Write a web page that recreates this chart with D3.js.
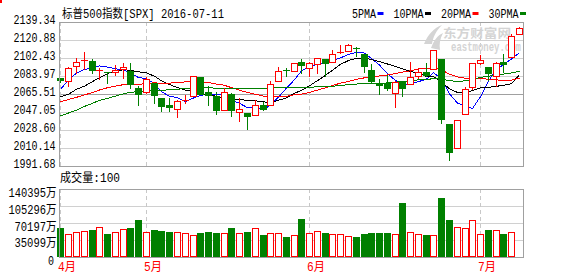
<!DOCTYPE html>
<html>
<head>
<meta charset="utf-8">
<script src="https://cdn.jsdelivr.net/npm/d3@7"></script>
<style>
  html, body { margin: 0; padding: 0; background: #fff; }
  svg { display: block; }
  text { font-family: "Liberation Mono", "Noto Sans CJK SC", monospace; font-size: 12px; }
</style>
</head>
<body>
<div id="chart"></div>
<script>
// S&P 500 daily candles, 2016-04-15 .. 2016-07-11
const dates = ['04-15','04-18','04-19','04-20','04-21','04-22','04-25','04-26','04-27','04-28','04-29',
  '05-02','05-03','05-04','05-05','05-06','05-09','05-10','05-11','05-12','05-13','05-16','05-17','05-18','05-19','05-20','05-23','05-24','05-25','05-26','05-27','05-31',
  '06-01','06-02','06-03','06-06','06-07','06-08','06-09','06-10','06-13','06-14','06-15','06-16','06-17','06-20','06-21','06-22','06-23','06-24','06-27','06-28','06-29','06-30',
  '07-01','07-05','07-06','07-07','07-08','07-11'];
const opens = [2083.1,2078.8,2096.5,2101.5,2102.1,2091.5,2089.4,2089.4,2092.3,2090.9,2071.8,
  2067.2,2077.2,2060.3,2052.9,2047.8,2057.6,2062.6,2083.3,2067.2,2062.5,2046.5,2065.0,2044.4,2044.2,2041.9,2052.2,2052.6,2078.9,2091.4,2090.1,2100.1,
  2093.9,2097.7,2104.1,2100.8,2110.2,2112.7,2115.7,2109.6,2091.8,2076.7,2077.6,2066.4,2078.0,2075.6,2085.2,2089.8,2092.8,2103.8,2031.5,2005.1,2042.7,2073.0,
  2099.3,2095.1,2084.4,2100.4,2106.0,2131.7];
const highs = [2083.2,2094.7,2104.4,2111.1,2103.8,2094.3,2089.4,2096.9,2099.9,2099.3,2073.8,
  2083.4,2077.2,2060.3,2060.2,2057.7,2064.2,2084.9,2083.3,2073.9,2066.8,2071.9,2065.7,2060.6,2044.2,2058.4,2055.6,2079.7,2094.7,2094.0,2099.1,2103.5,
  2100.0,2105.3,2104.1,2113.4,2119.2,2120.6,2117.6,2109.6,2098.1,2081.3,2085.7,2079.6,2078.0,2100.7,2093.7,2099.7,2113.3,2103.8,2031.5,2036.1,2073.1,2098.9,
  2108.7,2095.1,2100.7,2109.1,2131.7,2139.34];
const lows = [2077.8,2073.7,2088.6,2093.1,2088.5,2081.2,2077.5,2085.8,2082.3,2071.6,2052.3,
  2066.1,2054.9,2045.6,2045.8,2039.5,2054.3,2062.6,2064.5,2053.1,2043.1,2046.5,2040.8,2034.5,2025.9,2041.9,2047.3,2052.6,2078.9,2085.2,2090.1,2088.7,
  2085.1,2088.6,2085.4,2100.8,2110.2,2112.7,2107.0,2089.8,2078.5,2064.6,2069.8,2050.4,2062.8,2075.6,2083.0,2084.4,2092.8,2032.6,1991.68,2005.1,2042.7,2070.0,
  2097.9,2080.9,2074.0,2089.4,2106.0,2131.7];
const closes = [2080.7,2094.3,2100.8,2102.4,2091.5,2091.6,2087.8,2091.7,2095.2,2075.8,2065.3,
  2081.4,2063.4,2051.1,2050.6,2057.1,2058.7,2084.4,2064.5,2064.1,2046.6,2066.7,2047.2,2047.6,2040.0,2052.3,2048.0,2076.1,2090.5,2090.1,2099.1,2097.0,
  2099.3,2105.3,2099.1,2109.4,2112.1,2119.1,2115.5,2096.1,2079.1,2075.3,2071.5,2078.0,2071.2,2083.3,2088.9,2085.5,2113.3,2037.4,2000.5,2036.1,2070.8,2098.9,
  2103.0,2088.6,2099.7,2097.9,2129.9,2137.8];
// closes before the window (feed the moving averages at the left edge)
const priorCloses = [1999.99,2001.76,1979.26,1989.26,1989.57,2022.19,2019.64,2015.93,2027.22,2040.59,
  2049.58,2051.60,2049.80,2036.71,2035.94,2037.05,2055.01,2063.95,2059.74,2072.78,
  2066.13,2045.17,2066.66,2041.91,2047.60,2041.99,2061.72,2082.42,2082.78];
// volume, in 万
const volumes = [60500,47500,51600,53700,55700,61900,47500,51600,57800,60500,76400,
  51600,55700,53700,51600,51600,49500,45400,49500,51600,49500,49500,59900,49500,51600,59900,45400,49500,49500,42000,45400,78400,
  49500,53700,49500,47500,47500,43300,41300,47500,49500,49500,49500,47500,111500,51600,47500,45400,45400,121800,76400,61900,59900,76400,
  47500,55700,55700,47500,51600,2750];

const priceTicks = ['2139.34','2120.88','2102.43','2083.97','2065.51','2047.05','2028.60','2010.14','1991.68'];
const volumeTicks = [140395, 105296, 70197, 35099, 0];
const monthDates = ['04-15','05-02','06-01','07-01'];
const monthNames = ['4月','5月','6月','7月'];
const maPeriods = [5, 10, 20, 30];
const maNames = ['5PMA','10PMA','20PMA','30PMA'];
const maColors = ['#0000ff','#000000','#ff0000','#008000'];

const W = 578, H = 276;
const plotL = 59, plotR = 523;
const priceT = 22, priceB = 166;
const volT = 189, volB = 257;
const UP = '#ff0000', DOWN = '#008000';

// SimSun-like widths: 6px ascii, 12px cjk
const textWidth = (s) => Array.from(s).reduce((w, ch) => w + (ch.charCodeAt(0) > 255 ? 12 : 6), 0);

const svg = d3.select('#chart').append('svg')
  .attr('width', W)
  .attr('height', H)
  .attr('viewBox', `0 0 ${W} ${H}`);

const x = d3.scaleBand().domain(dates).range([57.1, 523.3]);
const cx = (d) => Math.floor(x(d) + x.step() / 2) + 0.5;
const yPrice = d3.scaleLinear().domain([d3.min(lows), d3.max(highs)]).range([159.7, 27.1]);
const yTick = d3.scalePoint().domain(priceTicks).range([priceT, priceB]);
const yVol = d3.scaleLinear().domain([0, d3.max(volumeTicks)]).range([volB, volT]);

// Header
svg.append('rect').attr('x', 0).attr('y', 0).attr('width', 2).attr('height', 3).attr('fill', UP);
const title = '标普500指数[SPX] 2016-07-11';
svg.append('text')
  .attr('x', 62).attr('y', 18)
  .attr('textLength', textWidth(title)).attr('lengthAdjust', 'spacingAndGlyphs')
  .text(title);

const gL = svg.append('g').attr('class', 'legend');
let lx = 352;
maNames.forEach((n, i) => {
  gL.append('text')
    .attr('x', lx).attr('y', 18)
    .attr('textLength', textWidth(n)).attr('lengthAdjust', 'spacingAndGlyphs')
    .text(n);
  lx += textWidth(n) + 1.5;
  gL.append('rect')
    .attr('x', lx).attr('y', 12)
    .attr('width', 6).attr('height', 3)
    .attr('fill', maColors[i]);
  lx += 16;
});

// Grid
const gG = svg.append('g').attr('class', 'grid').attr('shape-rendering', 'crispEdges');
priceTicks.slice(1, -1).forEach((t, i) => {
  gG.append('line')
    .attr('x1', plotL).attr('x2', plotR)
    .attr('y1', Math.round(yTick(t)) + 0.5).attr('y2', Math.round(yTick(t)) + 0.5)
    .attr('stroke', i === 3 ? '#a0a0a0' : '#d0d0d0');
});
volumeTicks.slice(1, -1).forEach((t) => {
  gG.append('line')
    .attr('x1', plotL).attr('x2', plotR)
    .attr('y1', Math.round(yVol(t)) + 0.5).attr('y2', Math.round(yVol(t)) + 0.5)
    .attr('stroke', '#d0d0d0');
});
monthDates.forEach((d) => {
  [[priceT, priceB], [volT, volB]].forEach(([a, b]) => {
    gG.append('line')
      .attr('x1', cx(d)).attr('x2', cx(d))
      .attr('y1', a).attr('y2', b)
      .attr('stroke', '#c8c8c8')
      .attr('stroke-dasharray', '4,3');
  });
});

// Watermark
const gW = svg.append('g').attr('class', 'watermark').attr('fill', '#d4d4d4');
gW.append('path')
  .attr('d', 'M424,44 C428,34 434,28 442,25 C436,31 433,37 432,44 Z M431,48 C434,40 438,35 443,33 C440,39 439,44 440,50 Z');
gW.append('text')
  .attr('x', 443).attr('y', 38)
  .attr('font-size', '12px').attr('font-weight', 'bold')
  .attr('textLength', 68).attr('lengthAdjust', 'spacingAndGlyphs')
  .text('东方财富网');
gW.append('text')
  .attr('x', 451).attr('y', 51)
  .attr('font-family', 'Liberation Sans').attr('font-size', '9px').attr('font-weight', 'bold')
  .attr('textLength', 70).attr('lengthAdjust', 'spacingAndGlyphs')
  .text('eastmoney.com');

// Moving averages
const allCloses = priorCloses.concat(closes);
const offset = priorCloses.length;
const gMA = svg.append('g').attr('class', 'ma');
maPeriods.forEach((p, k) => {
  const ma = dates.map((d, i) => d3.mean(allCloses.slice(offset + i - p + 1, offset + i + 1)));
  gMA.append('path')
    .datum(ma)
    .attr('d', d3.line().x((v, i) => cx(dates[i])).y((v) => yPrice(v)))
    .attr('fill', 'none')
    .attr('stroke', maColors[k])
    .attr('stroke-width', 1)
    .attr('shape-rendering', 'crispEdges');
});

// Candles
const gC = svg.append('g').attr('class', 'candles').attr('shape-rendering', 'crispEdges');
dates.forEach((d, i) => {
  const up = closes[i] >= opens[i];
  const col = up ? UP : DOWN;
  const c = cx(d);
  gC.append('line')
    .attr('x1', c).attr('x2', c)
    .attr('y1', Math.round(yPrice(highs[i]))).attr('y2', Math.round(yPrice(lows[i])) + 1)
    .attr('stroke', col);
  const top = Math.round(yPrice(Math.max(opens[i], closes[i])));
  const bot = Math.round(yPrice(Math.min(opens[i], closes[i])));
  if (bot - top < 2) {
    gC.append('rect')
      .attr('x', c - 3.5).attr('y', top)
      .attr('width', 7).attr('height', Math.max(1, bot - top))
      .attr('fill', col);
  } else if (up) {
    gC.append('rect')
      .attr('x', c - 3).attr('y', top + 0.5)
      .attr('width', 6).attr('height', bot - top)
      .attr('fill', '#fff')
      .attr('stroke', col);
  } else {
    gC.append('rect')
      .attr('x', c - 3.5).attr('y', top)
      .attr('width', 7).attr('height', bot - top + 1)
      .attr('fill', col);
  }
});

// Volume bars
svg.append('text')
  .attr('x', 60).attr('y', 182)
  .attr('textLength', textWidth('成交量:100')).attr('lengthAdjust', 'spacingAndGlyphs')
  .text('成交量:100');
const gV = svg.append('g').attr('class', 'volume').attr('shape-rendering', 'crispEdges');
dates.forEach((d, i) => {
  const up = closes[i] >= opens[i];
  const c = cx(d);
  const top = Math.round(yVol(volumes[i]));
  if (up) {
    gV.append('rect')
      .attr('x', c - 3).attr('y', top + 0.5)
      .attr('width', 6).attr('height', volB - top - 1)
      .attr('fill', '#fff')
      .attr('stroke', UP);
  } else {
    gV.append('rect')
      .attr('x', c - 3.5).attr('y', top)
      .attr('width', 7).attr('height', volB - top)
      .attr('fill', DOWN);
  }
});

// Frames
const gF = svg.append('g').attr('class', 'frames').attr('shape-rendering', 'crispEdges');
[[priceT, priceB], [volT, volB]].forEach(([a, b]) => {
  gF.append('rect')
    .attr('x', plotL + 0.5).attr('y', a + 0.5)
    .attr('width', plotR - plotL).attr('height', b - a)
    .attr('fill', 'none')
    .attr('stroke', '#a0a0a0');
});

// Axis labels
const gA = svg.append('g').attr('class', 'axis');
priceTicks.forEach((t) => {
  gA.append('text')
    .attr('x', 55.5).attr('y', yTick(t) + 1.5)
    .attr('text-anchor', 'end')
    .attr('textLength', textWidth(t)).attr('lengthAdjust', 'spacingAndGlyphs')
    .text(t);
});
volumeTicks.forEach((t) => {
  const s = t === 0 ? '0' : `${t}万`;
  gA.append('text')
    .attr('x', t === 0 ? 54 : 56.5).attr('y', yVol(t) + 7.5)
    .attr('text-anchor', 'end')
    .attr('textLength', textWidth(s)).attr('lengthAdjust', 'spacingAndGlyphs')
    .text(s);
});
monthDates.forEach((d, i) => {
  gA.append('text')
    .attr('x', cx(d) - 2.5).attr('y', 271)
    .attr('fill', UP)
    .attr('textLength', textWidth(monthNames[i])).attr('lengthAdjust', 'spacingAndGlyphs')
    .text(monthNames[i]);
});
</script>
</body>
</html>
